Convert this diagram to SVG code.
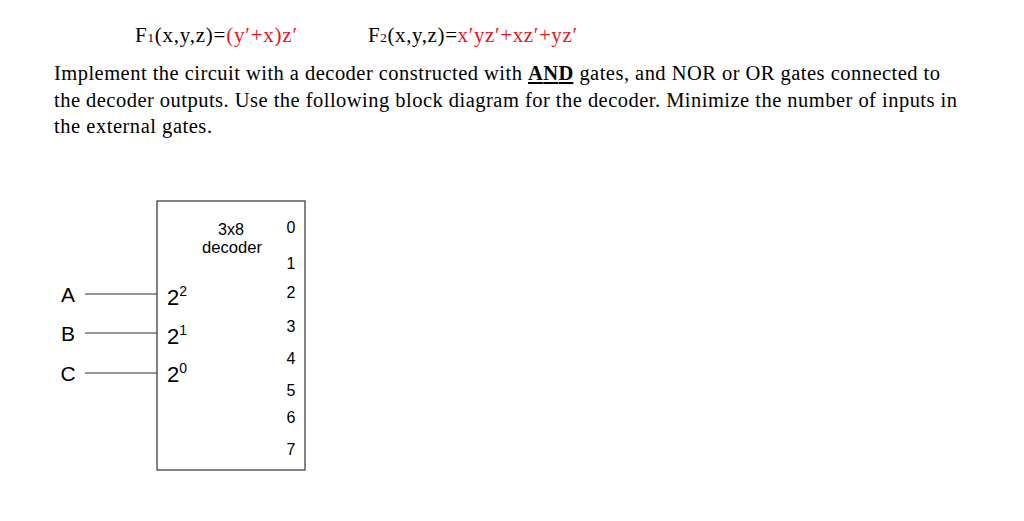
<svg xmlns="http://www.w3.org/2000/svg" width="1024" height="521" viewBox="0 0 1024 521">
<style>
.serif{font-family:"Liberation Serif","Times New Roman",serif;font-size:20.5px;fill:#000}
.eq{font-family:"Liberation Serif","Times New Roman",serif;font-size:21px;fill:#000}
.red{fill:#e8141c}
.sans{font-family:"Liberation Sans",Arial,sans-serif;fill:#000}
.wire{stroke:#333;stroke-width:1.2;fill:none}
</style>
<rect width="1024" height="521" fill="#fff"/>
<g id="equations">
<text class="eq" x="135" y="42" textLength="162" lengthAdjust="spacing">F<tspan font-size="13">1</tspan>(x,y,z)=<tspan class="red">(y′+x)z′</tspan></text>
<text class="eq" x="368" y="42" textLength="209" lengthAdjust="spacing">F<tspan font-size="13">2</tspan>(x,y,z)=<tspan class="red">x′yz′+xz′+yz′</tspan></text>
</g>
<g id="paragraph">
<text class="serif" x="54" y="80" textLength="886" lengthAdjust="spacing">Implement the circuit with a decoder constructed with <tspan font-weight="bold" text-decoration="underline">AND</tspan> gates, and NOR or OR gates connected to</text>
<text class="serif" x="54" y="107" textLength="903" lengthAdjust="spacing">the decoder outputs. Use the following block diagram for the decoder. Minimize the number of inputs in</text>
<text class="serif" x="54" y="133" textLength="158" lengthAdjust="spacing">the external gates.</text>
</g>
<g id="decoder">
<rect x="157" y="201" width="148" height="269" fill="#fff" stroke="#333" stroke-width="1.2"/>
<text class="sans" font-size="16" x="218" y="235" textLength="26" lengthAdjust="spacingAndGlyphs">3x8</text>
<text class="sans" font-size="16" x="202" y="253" textLength="60" lengthAdjust="spacingAndGlyphs">decoder</text>
<g class="sans" font-size="16" text-anchor="middle">
<text x="291" y="233">0</text>
<text x="291" y="269">1</text>
<text x="291" y="298">2</text>
<text x="291" y="332">3</text>
<text x="291" y="364">4</text>
<text x="291" y="396">5</text>
<text x="291" y="423">6</text>
<text x="291" y="455">7</text>
</g>
<text class="sans" font-size="22" x="167" y="305">2<tspan font-size="14" dy="-9">2</tspan></text>
<text class="sans" font-size="22" x="167" y="344">2<tspan font-size="14" dy="-9">1</tspan></text>
<text class="sans" font-size="22" x="167" y="382">2<tspan font-size="14" dy="-9">0</tspan></text>
</g>
<g id="input-A"><text class="sans" font-size="21" x="68" y="302" text-anchor="middle">A</text></g>
<g id="input-B"><text class="sans" font-size="21" x="68" y="341" text-anchor="middle">B</text></g>
<g id="input-C"><text class="sans" font-size="21" x="68" y="381" text-anchor="middle">C</text></g>
<g id="connectors">
<line class="wire" x1="85" y1="294" x2="157" y2="294"/>
<line class="wire" x1="85" y1="333" x2="157" y2="333"/>
<line class="wire" x1="85" y1="373" x2="157" y2="373"/>
</g>
</svg>
